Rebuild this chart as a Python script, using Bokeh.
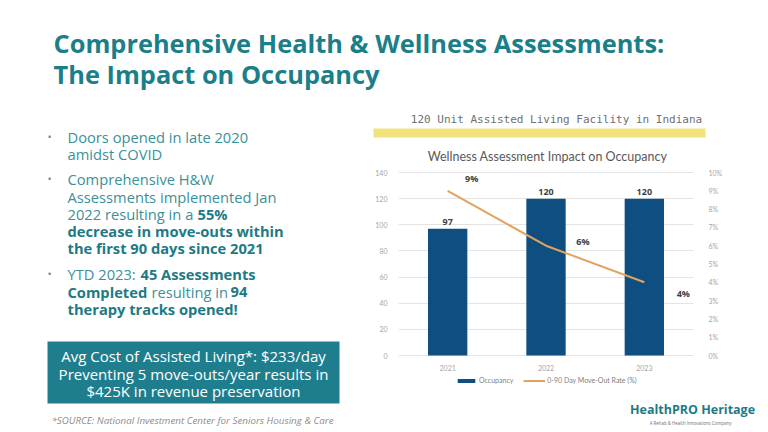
from bokeh.plotting import figure
from bokeh.core.properties import value
from bokeh.models import (ColumnDataSource, Range1d, LinearAxis, FixedTicker, Grid,
                          PrintfTickFormatter, Label, LabelSet, BoxAnnotation, Legend, LegendItem)
from bokeh.embed import file_html
from bokeh.resources import INLINE

# ---- data ----
years = ["2021", "2022", "2023"]
occupancy = [97, 120, 120]
moveout_rate = [9, 6, 4]
occ_ticks = [0, 20, 40, 60, 80, 100, 120, 140]
pct_ticks = [0, 1, 2, 3, 4, 5, 6, 7, 8, 9, 10]

W, H = 768, 432
TEAL = "#1B7F8A"
GRAY = "#A6A6A6"

# Page canvas: data units are slide pixels (y down); frame covers the whole canvas.
p = figure(width=W, height=H, output_backend="svg", toolbar_location=None,
           x_range=Range1d(0, W), y_range=Range1d(H, 0),
           x_axis_type=None, y_axis_type=None,
           min_border_left=0, min_border_right=0, min_border_top=0, min_border_bottom=0,
           outline_line_color=None, background_fill_color="white", border_fill_color="white")
p.xgrid.visible = False
p.ygrid.visible = False

# chart area placement on the slide (px)
CL, CR, CT, CB = 398, 693, 172, 355
n = len(years)
kx = (CR - CL) / n
ky = (CB - CT) / occ_ticks[-1]
kp = (CB - CT) / pct_ticks[-1]
p.extra_x_ranges = {"cx": Range1d(-CL / kx, (W - CL) / kx)}
p.extra_y_ranges = {"cy": Range1d(-(H - CB) / ky, -(H - CB) / ky + H / ky),
                    "cp": Range1d(-(H - CB) / kp, -(H - CB) / kp + H / kp)}

xpos = [i + 0.5 for i in range(n)]
src = ColumnDataSource(dict(x=xpos, occ=occupancy, rate=moveout_rate,
                            occ_txt=[str(v) for v in occupancy],
                            rate_txt=[f"{v}%" for v in moveout_rate]))

# gridlines
grid = Grid(dimension=1, ticker=FixedTicker(ticks=occ_ticks), x_range_name="cx", y_range_name="cy",
            grid_line_color="#E4E4E4")
try:
    grid.cross_bounds = (0, n)
    p.add_layout(grid)
    use_tick_grid = False
except Exception:
    use_tick_grid = True

bars = p.vbar(x="x", top="occ", width=0.4, source=src, fill_color="#0E4E80", line_color=None,
              x_range_name="cx", y_range_name="cy")
line = p.line(x="x", y="rate", source=src, line_color="#E2A35E", line_width=2,
              x_range_name="cx", y_range_name="cp")


def style_axis(ax, standoff):
    ax.axis_line_color = None
    ax.major_tick_line_color = None
    ax.minor_tick_line_color = None
    ax.major_label_text_color = GRAY
    ax.major_label_text_font = "Lato"
    ax.major_label_text_font_size = "7px"
    ax.major_label_standoff = standoff


lax = LinearAxis(x_range_name="cx", y_range_name="cy", ticker=FixedTicker(ticks=occ_ticks),
                 fixed_location=0)
style_axis(lax, 5)
if use_tick_grid:
    lax.major_tick_line_color = "#E4E4E4"
    lax.major_tick_in = int(CR - CL)
    lax.major_tick_out = 0
    lax.level = "underlay"
p.add_layout(lax, "left")

rax = LinearAxis(x_range_name="cx", y_range_name="cp", ticker=FixedTicker(ticks=pct_ticks),
                 formatter=PrintfTickFormatter(format="%d%%"), fixed_location=n)
style_axis(rax, 9)
p.add_layout(rax, "right")

bax = LinearAxis(x_range_name="cx", y_range_name="cy", ticker=FixedTicker(ticks=xpos),
                 major_label_overrides={xp: yr for xp, yr in zip(xpos, years)}, fixed_location=0)
style_axis(bax, 3)
p.add_layout(bax, "below")

# data labels
p.add_layout(LabelSet(x="x", y="occ", text="occ_txt", source=src, y_offset=4,
                      x_range_name="cx", y_range_name="cy",
                      text_align="center", text_baseline="bottom", text_font=value("Open Sans"),
                      text_font_style="bold", text_font_size="9px", text_color="#404040"))
pct_dx = [24, 37, 39]
pct_dy = [12, 4, -11]
src.data["dx"] = pct_dx
src.data["dy"] = pct_dy
p.add_layout(LabelSet(x="x", y="rate", text="rate_txt", source=src,
                      x_range_name="cx", y_range_name="cp", x_offset="dx", y_offset="dy",
                      text_align="center", text_baseline="middle", text_font=value("Open Sans"),
                      text_font_style="bold", text_font_size="9px", text_color="#404040"))

legend = Legend(items=[LegendItem(label="Occupancy", renderers=[bars]),
                       LegendItem(label="0-90 Day Move-Out Rate (%)", renderers=[line])],
                orientation="horizontal", location=(455, H - 385), padding=0, margin=0,
                spacing=10, glyph_width=22, glyph_height=5, label_height=10, label_standoff=2,
                label_text_font="Lato", label_text_font_size="7px", label_text_color="#7F7F7F",
                border_line_color=None, background_fill_alpha=0)
p.add_layout(legend)


def L(x, y, text, size, color, font="Open Sans", style="normal", align="left"):
    p.add_layout(Label(x=x, y=y, text=text, text_font=font, text_font_size=size,
                       text_color=color, text_font_style=style, text_align=align,
                       text_baseline="middle"))


# ---- title ----
L(53, 42, "Comprehensive Health & Wellness Assessments:", "25.4px", TEAL, style="bold")
L(53, 73, "The Impact on Occupancy", "25.4px", TEAL, style="bold")

# ---- bullets ----
BT = "#3A9199"
BB = "#1E7A84"
FS = "14.7px"
for yb in [136, 178, 273]:
    L(49, yb, "•", "11px", "#6B8E91", align="center")
L(67, 136, "Doors opened in late 2020", FS, BT)
L(67, 153, "amidst COVID", FS, BT)
L(67, 178, "Comprehensive H&W", FS, BT)
L(67, 196, "Assessments implemented Jan", FS, BT)
L(67, 213, "2022 resulting in a", FS, BT)
L(197, 213, "55%", FS, BB, style="bold")
L(67, 230, "decrease in move-outs within", FS, BB, style="bold")
L(67, 247, "the first 90 days since 2021", FS, BB, style="bold")
L(250, 247, "!", FS, BT)
L(67, 273, "YTD 2023:", FS, BT)
L(140, 273, "45 Assessments", FS, BB, style="bold")
L(67, 291, "Completed", FS, BB, style="bold")
L(151, 291, "resulting in", FS, BT)
L(230, 291, "94", FS, BB, style="bold")
L(67, 308, "therapy tracks opened!", FS, BB, style="bold")

# ---- cost box ----
p.add_layout(BoxAnnotation(left=47, right=339, top=341, bottom=403,
                           fill_color="#1F7E8D", fill_alpha=1, line_color=None))
L(193, 355, "Avg Cost of Assisted Living*: $233/day", "15px", "white", align="center")
L(193, 373, "Preventing 5 move-outs/year results in", "15px", "white", align="center")
L(193, 390, "$425K in revenue preservation", "15px", "white", align="center")
L(192, 420, "*SOURCE: National Investment Center for Seniors Housing & Care", "9.8px", "#8C8C8C",
  style="italic", align="center")

# ---- chart header ----
p.add_layout(BoxAnnotation(left=373, right=705, top=128, bottom=137,
                           fill_color="#F0E37E", fill_alpha=1, line_color=None))
L(556, 119, "120 Unit Assisted Living Facility in Indiana", "11px", "#6F6F6F",
  font="DejaVu Sans Mono", align="center")
L(547, 156, "Wellness Assessment Impact on Occupancy", "12.5px", "#595959", font="Lato",
  align="center")

# ---- logo ----
L(692, 409, "HealthPRO Heritage", "12.5px", "#1D7A86", style="bold", align="center")
L(690, 422, "A Rehab & Health Innovations Company", "4.4px", "#6F6F6F", align="center")

open("out.html", "w").write(file_html(p, INLINE))
